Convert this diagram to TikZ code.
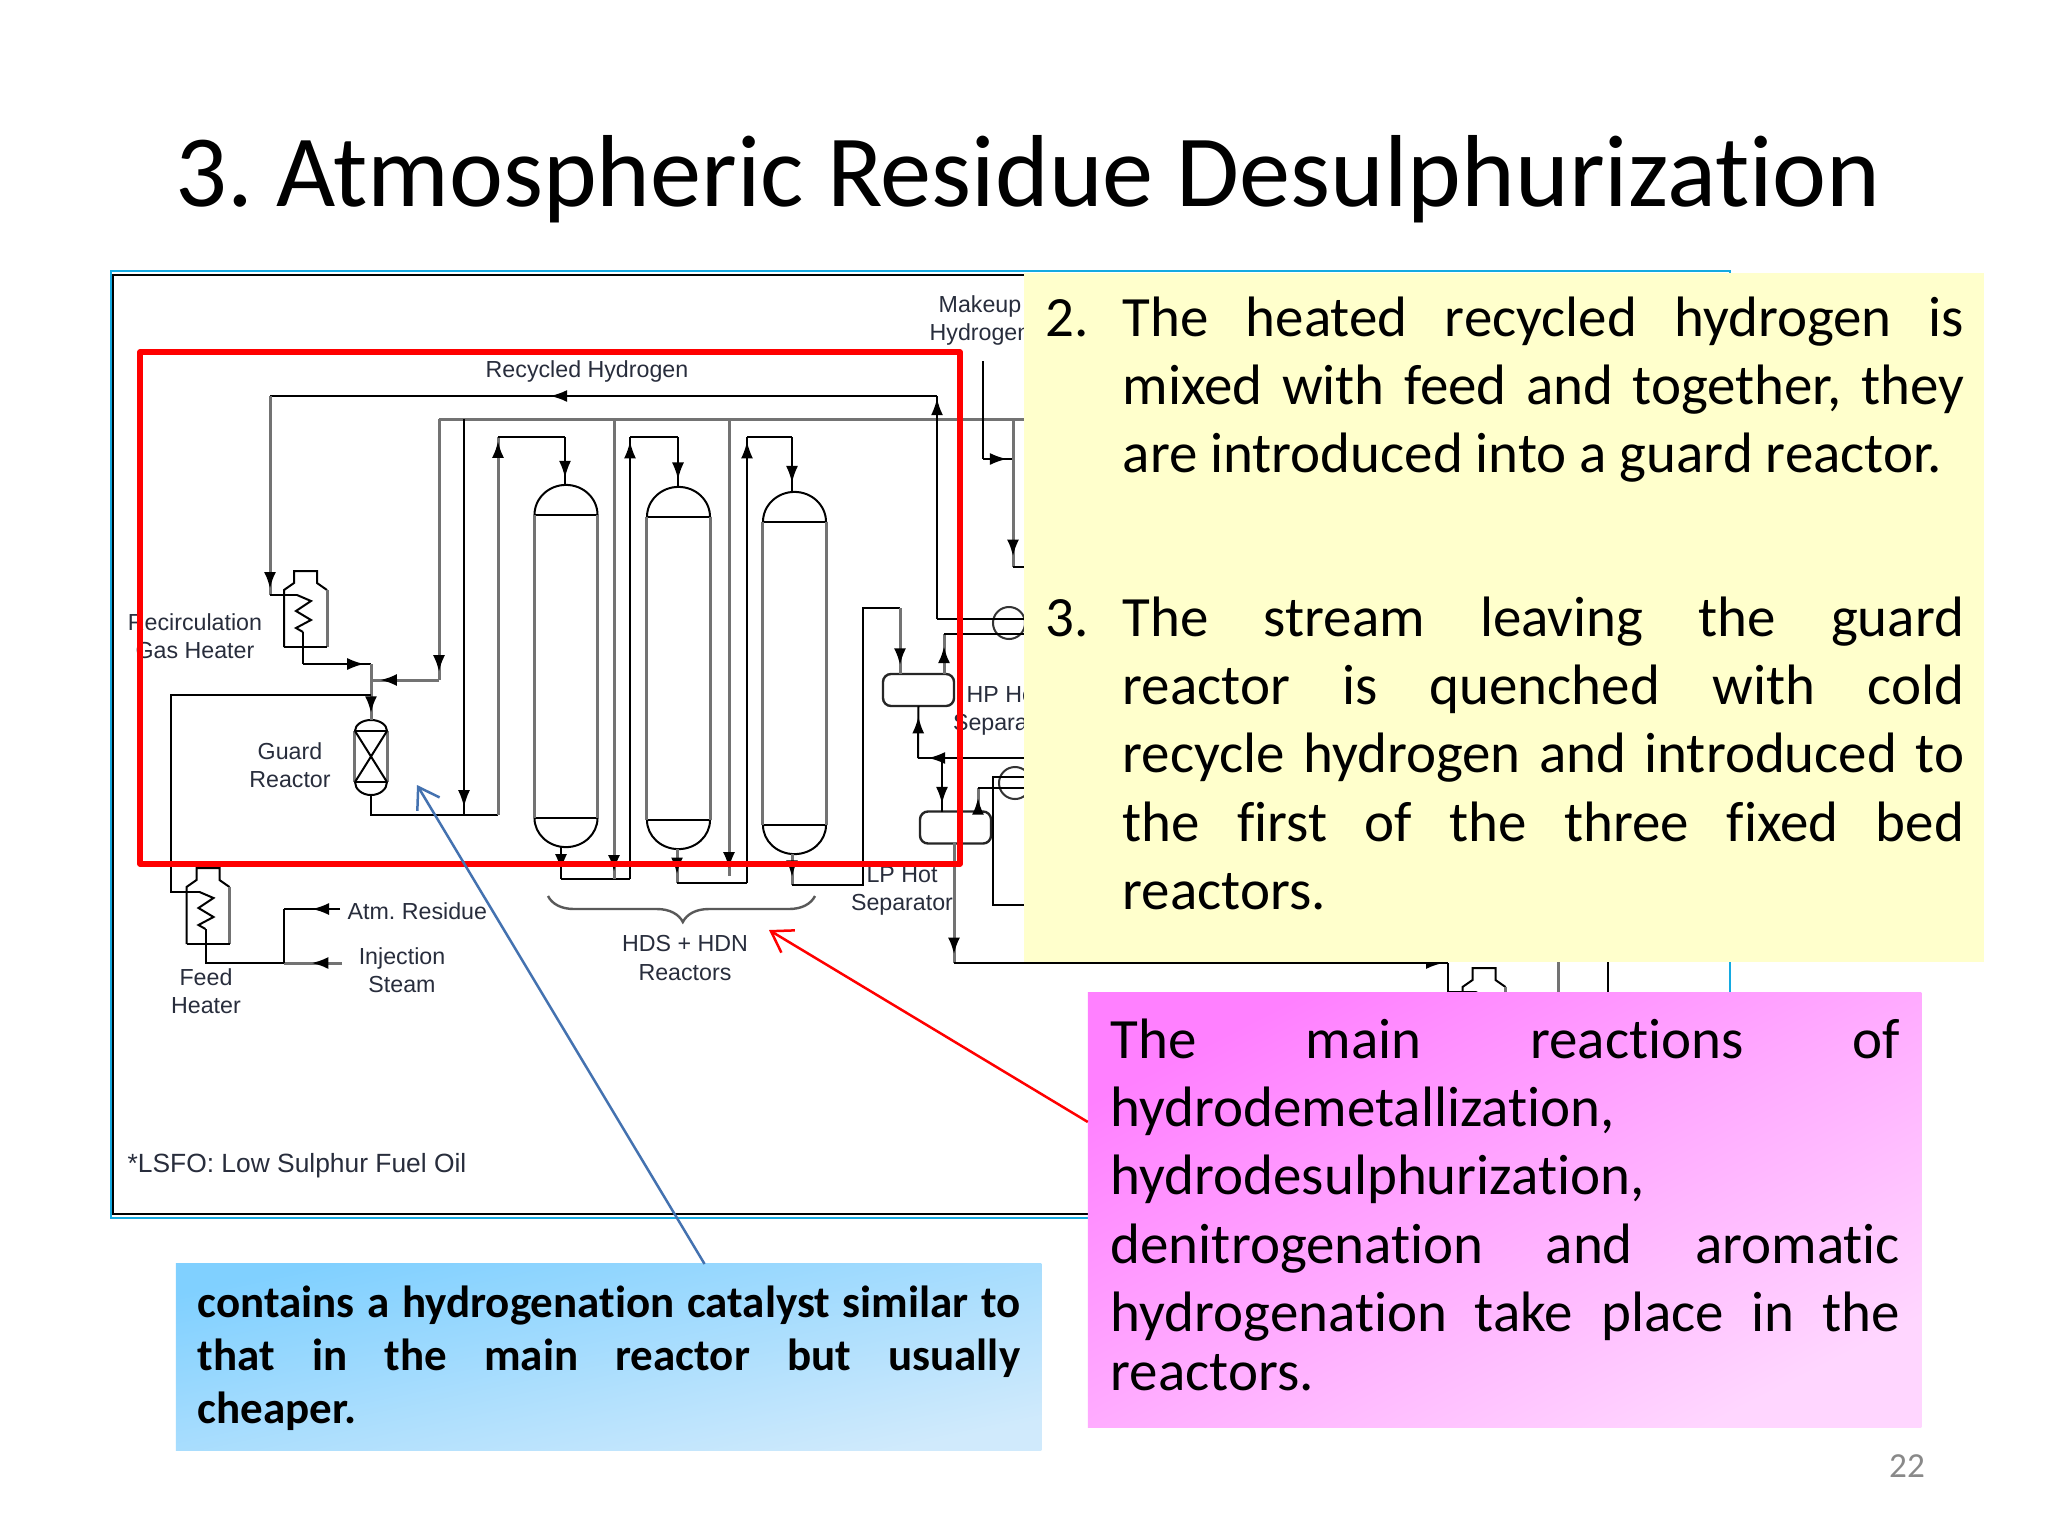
\documentclass[tikz,border=0pt]{standalone}
\usepackage{fontspec}
\setmainfont{Carlito}[Ligatures=NoCommon]
\setsansfont{Liberation Sans}
\usetikzlibrary{positioning, arrows.meta, calc, decorations.markings, decorations.pathreplacing}
\definecolor{framecyan}{RGB}{20,170,225}
\definecolor{notebg}{RGB}{255,255,204}
\definecolor{arrowblue}{RGB}{68,114,176}
\definecolor{labelink}{RGB}{40,45,60}
\definecolor{pagegray}{RGB}{137,137,137}
\definecolor{pinka}{RGB}{255,128,255}
\definecolor{pinkb}{RGB}{255,214,255}
\definecolor{bluea}{RGB}{128,208,255}
\definecolor{blueb}{RGB}{208,234,252}
\tikzset{
    bline/.style={draw=black, line width=0.02cm},
    gline/.style={draw=black!55, line width=0.03cm},
    tipat/.style={postaction={decorate, decoration={markings, mark=at position #1 with {\arrow[black]{Latex[length=0.17cm,width=0.12cm]}}}}},
    shell/.style={rectangle, minimum width=0.63cm, inner sep=0pt, outer sep=0pt},
    sepdrum/.style={rectangle, draw=black!85, rounded corners=0.08cm, line width=0.024cm, minimum width=0.71cm, minimum height=0.32cm, inner sep=0pt, outer sep=0pt},
    hxring/.style={circle, draw=black!80, line width=0.02cm, minimum size=0.32cm, inner sep=0pt, outer sep=0pt},
    lbl/.style={font=\sffamily\fontsize{6.6}{8}\selectfont, text=labelink, align=center, inner sep=0pt},
    titletxt/.style={font=\fontsize{29.1}{36}\selectfont, anchor=base west, inner sep=0pt},
    numtxt/.style={font=\fontsize{16.2}{19.45}\selectfont, anchor=base west, inner sep=0pt},
    bodytxt/.style={font=\fontsize{16.2}{19.45}\selectfont, align=justify, anchor=base west, inner sep=0pt},
    calloutblue/.style={arrowblue, line width=0.025cm, -{Straight Barb[length=0.2cm,width=0.26cm]}},
    calloutred/.style={red, line width=0.025cm, -{Straight Barb[length=0.2cm,width=0.26cm]}},
    notebox/.style={rectangle, inner sep=0pt, outer sep=0pt, minimum width=#1}
}

\begin{document}
\tolerance=10000
\frenchspacing
\begin{tikzpicture}[x=0.01cm, y=-0.01cm]
    \useasboundingbox (0,0) rectangle (2048,1536);
    \fill[white] (0,0) rectangle (2048,1536);
    \node[titletxt] (title) at (175,206) {3. Atmospheric Residue Desulphurization};

    % picture frame
    \coordinate (ftl) at (111,271);
    \coordinate (fbr) at (1730,1218);
    \draw[framecyan, line width=0.02cm] (ftl) rectangle (fbr);
    \coordinate (ktr) at (1100,275);
    \coordinate (ktl) at (113,275);
    \coordinate (kbl) at (113,1214);
    \coordinate (kbr) at (1100,1214);
    \draw[black, line width=0.024cm] (ktr) -- (ktl) -- (kbl) -- (kbr);

    % reactors
    \node[shell, minimum height=3.03cm] (r1) at (566,666.5) {};
    \node[shell, minimum height=3.03cm] (r2) at (678.5,668.5) {};
    \node[shell, minimum height=3.03cm] (r3) at (794.5,673.5) {};
    \foreach \r in {r1,r2,r3} {
        \draw[bline] (\r.north west) -- (\r.north east);
        \draw[bline] (\r.south west) -- (\r.south east);
        \draw[gline] (\r.north west) -- (\r.south west);
        \draw[gline] (\r.north east) -- (\r.south east);
        \draw[bline] (\r.north west) arc[start angle=180, end angle=0, x radius=0.315cm, y radius=0.3cm];
        \draw[bline] (\r.south west) arc[start angle=180, end angle=360, x radius=0.315cm, y radius=0.29cm];
    }
    \node[shell, minimum width=0.32cm, minimum height=0.51cm] (guard) at (371,756.5) {};
    \draw[bline] (guard.north west) -- (guard.north east);
    \draw[bline] (guard.south west) -- (guard.south east);
    \draw[gline] (guard.north west) -- (guard.south west);
    \draw[gline] (guard.north east) -- (guard.south east);
    \draw[bline] (guard.north west) -- (guard.south east);
    \draw[bline] (guard.north east) -- (guard.south west);
    \draw[bline] (guard.north west) arc[start angle=180, end angle=0, x radius=0.16cm, y radius=0.11cm];
    \draw[bline] (guard.south west) arc[start angle=180, end angle=360, x radius=0.16cm, y radius=0.13cm];

    % fired heaters
    \coordinate (h1) at (305.5,647);
    \coordinate (h2) at (208,944);
    \coordinate (h3) at (1484,1044);
    \foreach \h in {h1,h2,h3} {
        \begin{scope}[shift={(\h)}]
            \draw[bline] (-21.5,0) -- (-21.5,-57) -- (-11.5,-64) -- (-11.5,-76) -- (11.5,-76) -- (11.5,-64) -- (21.5,-57);
            \draw[gline] (21.5,-57) -- (21.5,0);
            \draw[bline] (21.5,0) -- (-21.5,0);
            \coordinate (\h-in) at (-8.5,-52);
            \coordinate (\h-out) at (-2.5,-15);
            \draw[bline] (\h-in) -- (5.5,-46) -- (-9.5,-36) -- (5.5,-27) -- (-9.5,-19) -- (\h-out);
        \end{scope}
    }

    % separators and exchangers
    \node[sepdrum] (hpsep) at (918.5,690) {};
    \node[sepdrum] (lpsep) at (955.5,827.5) {};
    \node[hxring] (hxa) at (1009,623) {};
    \node[hxring] (hxb) at (1015,783) {};

    % quench header
    \coordinate (hdrl) at (439,419);
    \coordinate (hdrr) at (1030,419);
    \draw[gline] (hdrl) -- (hdrr);

    % recycled hydrogen
    \coordinate (rhr) at (937,396);
    \coordinate (rhl) at (270,396);
    \coordinate (rhb) at (937,619);
    \coordinate (rhe) at (1030,619);
    \draw[bline, tipat=0.58] (rhr) -- (rhl);
    \draw[gline, tipat=0.97] (rhl) -- (rhl |- h1-in);
    \draw[bline] (rhl |- h1-in) -- (h1-in);
    \draw[bline, tipat=0.99] (rhb) -- (rhr);
    \draw[bline] (rhb) -- (rhe);

    % guard reactor inlet
    \coordinate (mixa) at (371,664);
    \coordinate (mixb) at (371,680);
    \coordinate (mixc) at (371,695);
    \coordinate (guardin) at (371,720);
    \coordinate (guardout) at (371,795);
    \draw[bline] (h1-out) -- (h1-out |- mixa);
    \draw[bline, tipat=0.9] (h1-out |- mixa) -- (mixa);
    \draw[gline, tipat=0.88] (mixa) -- (guardin);
    \draw[gline, tipat=0.97] (hdrl) -- (hdrl |- mixb);
    \draw[gline, tipat=0.87] (hdrl |- mixb) -- (mixb);

    % feed
    \coordinate (feedc) at (171,892);
    \coordinate (steamj) at (284,963);
    \coordinate (steam) at (342,963);
    \coordinate (atm) at (340,909);
    \coordinate (atmj) at (284,909);
    \draw[bline] (mixc) -| (feedc) -- (h2-in);
    \draw[bline] (h2-out) |- (steamj);
    \draw[gline, tipat=0.53] (steam) -- (steamj);
    \draw[bline, tipat=0.5] (atm) -- (atmj);
    \draw[bline] (atmj) -- (steamj);

    % first reactor
    \coordinate (q1a) at (464,419);
    \coordinate (q1b) at (464,815);
    \coordinate (g1a) at (498,815);
    \coordinate (g1b) at (498,437);
    \coordinate (g1c) at (565,437);
    \coordinate (r1in) at (565,485);
    \draw[bline, tipat=0.98] (q1a) -- (q1b);
    \draw[bline] (guardout) |- (g1a);
    \draw[gline, tipat=0.99] (g1a) -- (g1b);
    \draw[bline] (g1b) -- (g1c);
    \draw[bline, tipat=0.85] (g1c) -- (r1in);

    % second reactor
    \coordinate (r1bot) at (561,847);
    \coordinate (r1c) at (561,879);
    \coordinate (r1d) at (630,879);
    \coordinate (r1e) at (630,437);
    \coordinate (r1f) at (678,437);
    \coordinate (r2in) at (678,487);
    \coordinate (q2a) at (614,419);
    \coordinate (q2b) at (614,879);
    \draw[bline, tipat=0.75] (r1bot) -- (r1c);
    \draw[bline] (r1c) -- (r1d);
    \draw[gline, tipat=0.985] (q2a) -- (q2b);
    \draw[bline, tipat=0.99] (r1d) -- (r1e);
    \draw[bline] (r1e) -- (r1f);
    \draw[bline, tipat=0.85] (r1f) -- (r2in);

    % third reactor
    \coordinate (r2bot) at (677,849);
    \coordinate (r2c) at (677,883);
    \coordinate (r2d) at (747,883);
    \coordinate (r2e) at (747,437);
    \coordinate (r2f) at (792,437);
    \coordinate (r3in) at (792,491);
    \coordinate (q3a) at (729,419);
    \coordinate (q3b) at (729,876);
    \draw[gline, tipat=0.75] (r2bot) -- (r2c);
    \draw[bline] (r2c) -- (r2d);
    \draw[gline, tipat=0.985] (q3a) -- (q3b);
    \draw[bline, tipat=0.99] (r2d) -- (r2e);
    \draw[bline] (r2e) -- (r2f);
    \draw[bline, tipat=0.85] (r2f) -- (r3in);

    % separators
    \coordinate (r3bot) at (792,854);
    \coordinate (r3c) at (792,885);
    \coordinate (r3d) at (863,885);
    \coordinate (r3e) at (863,608);
    \coordinate (hpa) at (900,608);
    \coordinate (hpin) at (900,674);
    \coordinate (hpgas) at (944,674);
    \coordinate (hpgasb) at (944,634);
    \coordinate (hpgasc) at (1030,634);
    \coordinate (hpliq) at (1030,758);
    \coordinate (hpliqa) at (942,758);
    \coordinate (hpliqb) at (918,758);
    \coordinate (lpin) at (942,812);
    \coordinate (lpgas) at (978,812);
    \coordinate (lpgasb) at (978,788);
    \coordinate (lpgasc) at (1030,788);
    \coordinate (lpa) at (1030,777);
    \coordinate (lpb) at (993,777);
    \coordinate (lpc) at (993,905);
    \coordinate (lpd) at (1030,905);
    \coordinate (lpliq) at (954,843);
    \coordinate (lpliqb) at (954,963);
    \coordinate (lpliqc) at (1448,963);
    \draw[gline, tipat=0.75] (r3bot) -- (r3c);
    \draw[bline] (r3c) -- (r3d) -- (r3e) -- (hpa);
    \draw[gline, tipat=0.87] (hpa) -- (hpin);
    \draw[gline, tipat=0.7] (hpgas) -- (hpgasb);
    \draw[bline] (hpgasb) -- (hpgasc);
    \draw[bline] (hpliq) -- (hpliqa);
    \draw[bline, tipat=0.58] (hpliqa) -- (hpliqb);
    \draw[bline, tipat=0.8] (hpliqb) -- (hpsep.south);
    \draw[bline, tipat=0.85] (hpliqa) -- (lpin);
    \draw[gline, tipat=0.6] (lpgas) -- (lpgasb);
    \draw[bline] (lpgasb) -- (lpgasc);
    \draw[bline] (lpa) -- (lpb) -- (lpc) -- (lpd);
    \draw[gline, tipat=0.93] (lpliq) -- (lpliqb);
    \draw[bline, tipat=0.99] (lpliqb) -- (lpliqc);
    \draw[bline] (lpliqc) |- (h3-in);

    % makeup hydrogen
    \coordinate (mka) at (982.5,361);
    \coordinate (mkb) at (982.5,459);
    \coordinate (mkc) at (1013,459);
    \coordinate (mkd) at (1013,419);
    \coordinate (mke) at (1013,567);
    \coordinate (mkf) at (1030,567);
    \draw[bline] (mka) -- (mkb);
    \draw[bline, tipat=0.8] (mkb) -- (mkc);
    \draw[gline, tipat=0.93] (mkd) -- (mke);
    \draw[bline] (mke) -- (mkf);

    % lines leaving behind the notes
    \coordinate (exa) at (1558,900);
    \coordinate (exb) at (1558,1000);
    \coordinate (exc) at (1608,900);
    \coordinate (exd) at (1608,1000);
    \draw[gline] (exa) -- (exb);
    \draw[bline] (exc) -- (exd);

    % brace
    \coordinate (bracel) at (548,896);
    \coordinate (bracer) at (815,896);
    \draw[draw=black!65, line width=0.024cm, decorate, decoration={brace, mirror, amplitude=0.26cm, aspect=0.505}] (bracel) -- (bracer);

    % labels
    \node[lbl] (lblrh) at (587,371) {Recycled Hydrogen};
    \node[lbl, anchor=north] (lblmk) at (980,295) {Makeup\\Hydrogen};
    \node[lbl, anchor=north] (lblrg) at (195,613) {Recirculation\\Gas Heater};
    \node[lbl, anchor=north] (lblgr) at (290,742) {Guard\\Reactor};
    \node[lbl, anchor=north] (lblfh) at (206,968) {Feed\\Heater};
    \node[lbl, anchor=west] (lblatm) at (347,911) {Atm. Residue};
    \node[lbl, anchor=north] (lblis) at (402,947) {Injection\\Steam};
    \node[lbl, anchor=north] (lblhds) at (685,935) {HDS + HDN\\Reactors};
    \node[lbl, anchor=north] (lbllp) at (902,866) {LP Hot\\Separator};
    \node[lbl, anchor=north] (lblhp) at (1004,685.5) {HP Hot\\Separator};
    \node[lbl, font=\sffamily\fontsize{7.5}{9}\selectfont, anchor=west] (lbllsfo) at (127,1165.5) {*LSFO: Low Sulphur Fuel Oil};

    % red highlight
    \coordinate (hla) at (140,352);
    \coordinate (hlb) at (960,864);
    \draw[red, line width=0.055cm, line join=round] (hla) rectangle (hlb);

    % notes
    \node[notebox=9.6cm, minimum height=6.89cm, fill=notebg] (yellow) at (1504,617.5) {};
    \node[numtxt] (num2) at (1045,336) {2.};
    \node[bodytxt, text width=8.41cm] (item2) at (1122,336) {The heated recycled hydrogen is\linebreak mixed with feed and together, they\linebreak are introduced into a guard reactor.};
    \node[numtxt] (num3) at (1045,636) {3.};
    \node[bodytxt, text width=8.41cm] (item3) at (1122,636) {The stream leaving the guard\linebreak reactor is quenched with cold\linebreak recycle hydrogen and introduced to\linebreak the first of the three fixed bed\linebreak reactors.};

    \node[notebox=8.33cm, minimum height=4.34cm, top color=pinka, bottom color=pinkb, shading angle=27] (pink) at (1504.5,1210) {};
    \node[bodytxt, text width=7.89cm] (pinktxt) at (1110,1058) {The main reactions of\linebreak hydrodemetallization,\\ hydrodesulphurization,\\ denitrogenation and aromatic\linebreak hydrogenation take place in the\parfillskip=0pt\par};
    \node[numtxt] (pinklast) at (1110,1390) {reactors.};

    \node[notebox=8.65cm, minimum height=1.86cm, top color=bluea, bottom color=blueb, shading angle=12] (blue) at (608.5,1357) {};
    \node[bodytxt, font=\fontsize{12.8}{15.2}\selectfont\bfseries, text width=8.22cm] (bluetxt) at (197,1317) {contains a hydrogenation catalyst similar to\linebreak that in the main reactor but usually\linebreak cheaper.};

    % callouts
    \coordinate (guardtip) at (417,785);
    \coordinate (bracetip) at (769,930);
    \draw[calloutblue] ([xshift=0.96cm]blue.north) -- (guardtip);
    \draw[calloutred] ([yshift=0.88cm]pink.west) -- (bracetip);

    \node[font=\fontsize{10}{12}\selectfont, text=pagegray, inner sep=0pt] (pageno) at (1907,1466) {22};
\end{tikzpicture}
\end{document}
